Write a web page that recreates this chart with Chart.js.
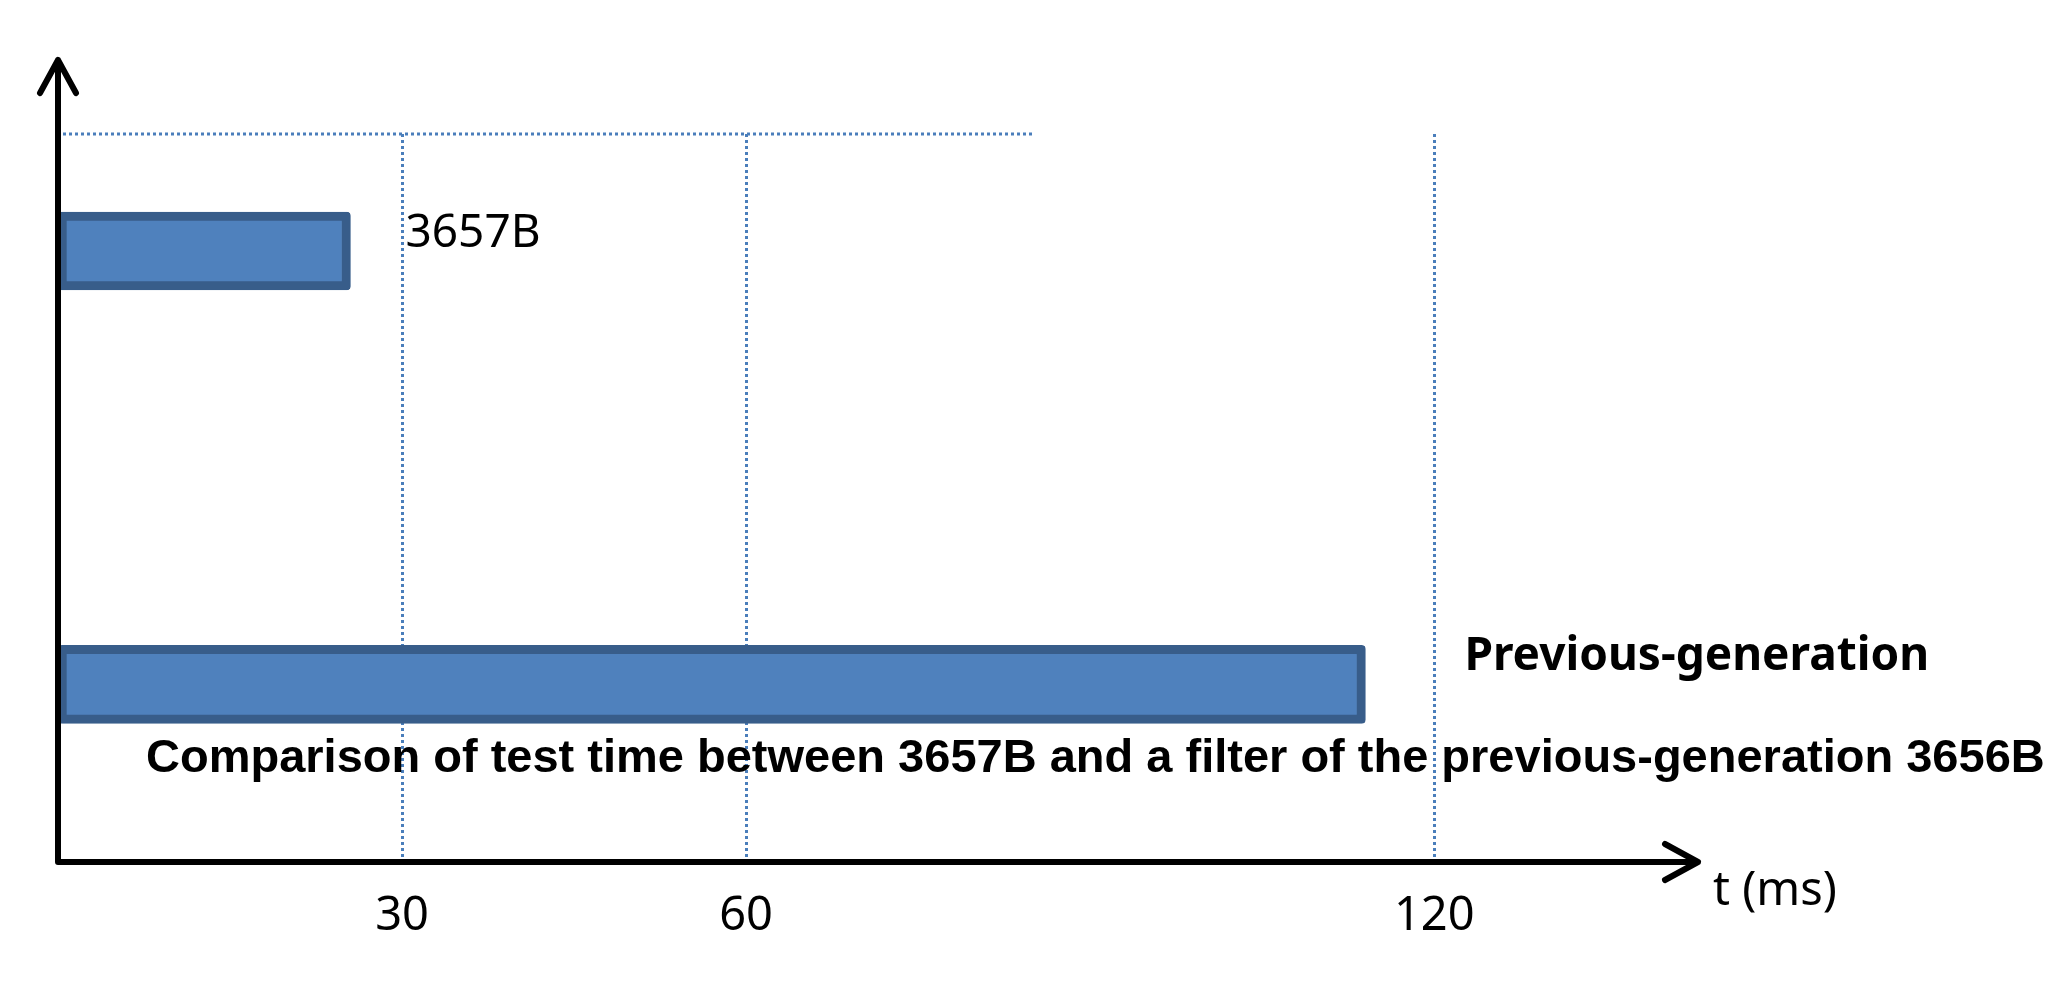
<!DOCTYPE html>
<html lang="en">
<head>
  <meta charset="UTF-8" />
  <title>Test Time Comparison</title>
  <script src="https://cdn.jsdelivr.net/npm/chart.js"></script>
  <style>
    html, body { margin: 0; padding: 0; background: #fff; }
    #wrap { width: 2048px; height: 1003px; }
  </style>
</head>
<body>
  <div id="wrap"><canvas id="timeChart" width="2048" height="1003"></canvas></div>

  <script>
    // data
    const categories = ['3657B', 'Previous-generation'];
    const testTimes = [25.5, 114];          // ms
    const tickValues = [30, 60, 120];
    const axisTitle = 't (ms)';
    const caption = 'Comparison of test time between 3657B and a filter of the previous-generation 3656B';

    // label styling (offsets from the bar end / centre, in px)
    const labelWeights = ['normal', 'bold'];
    const labelGap = [55, 99];
    const labelRise = [-4, -14];
    const topRuleEnd = 85;                   // dotted rule at the top stops here (ms)

    const dotBlue = '#4a7ebb';

    const frame = {
      id: 'frame',
      afterDatasetsDraw(chart) {
        const { ctx, chartArea: a } = chart;
        const bars = chart.getDatasetMeta(0).data;
        ctx.save();
        ctx.fillStyle = '#000';
        ctx.textBaseline = 'alphabetic';
        ctx.textAlign = 'left';
        bars.forEach((bar, i) => {
          ctx.font = labelWeights[i] + ' 46px "Noto Sans"';
          ctx.fillText(categories[i], bar.x + labelGap[i], bar.y + labelRise[i]);
        });
        ctx.font = 'bold 47px "Liberation Sans"';
        ctx.fillText(caption, a.left + 88, a.bottom - 90);
        ctx.font = '47px "Noto Sans"';
        ctx.fillText(axisTitle, a.right + 15, a.bottom + 43);
        ctx.restore();
      },
      afterDraw(chart) {
        const { ctx, chartArea: a, scales: { x } } = chart;
        ctx.save();
        // dotted rule along the top
        ctx.strokeStyle = dotBlue;
        ctx.lineWidth = 3;
        ctx.setLineDash([3, 3]);
        ctx.beginPath();
        ctx.moveTo(a.left + 5, a.top);
        ctx.lineTo(x.getPixelForValue(topRuleEnd), a.top);
        ctx.stroke();
        ctx.setLineDash([]);

        // axes with open arrow heads
        ctx.strokeStyle = '#000';
        ctx.lineWidth = 6;
        ctx.lineCap = 'round';
        ctx.lineJoin = 'round';
        const tipY = a.top - 74;
        ctx.beginPath();
        ctx.moveTo(a.left, a.bottom);
        ctx.lineTo(a.left, tipY);
        ctx.moveTo(a.left - 18, tipY + 33);
        ctx.lineTo(a.left, tipY);
        ctx.lineTo(a.left + 18, tipY + 33);
        ctx.moveTo(a.left, a.bottom);
        ctx.lineTo(a.right, a.bottom);
        ctx.moveTo(a.right - 33, a.bottom - 18);
        ctx.lineTo(a.right, a.bottom);
        ctx.lineTo(a.right - 33, a.bottom + 18);
        ctx.stroke();
        ctx.restore();
      }
    };

    new Chart(document.getElementById('timeChart'), {
      type: 'bar',
      data: {
        datasets: [{
          data: categories.map((c, i) => ({ x: testTimes[i], y: i })),
          backgroundColor: '#4f81bd',
          borderColor: '#385d8a',
          borderWidth: 9,
          borderSkipped: false,
          borderRadius: 4,
          barThickness: 78
        }]
      },
      options: {
        responsive: false,
        devicePixelRatio: 1,
        animation: false,
        indexAxis: 'y',
        layout: { padding: { left: 58, top: 134, right: 350, bottom: 0 } },
        plugins: { legend: { display: false }, tooltip: { enabled: false } },
        scales: {
          x: {
            type: 'linear',
            min: 0,
            max: 143,
            afterBuildTicks: s => { s.ticks = tickValues.map(v => ({ value: v })); },
            afterFit: s => { s.height = 141; },
            ticks: {
              font: { family: 'Noto Sans', size: 47 },
              color: '#000',
              padding: 26,
              maxRotation: 0,
              autoSkip: false
            },
            grid: { color: dotBlue, lineWidth: 3, drawTicks: false },
            border: { display: false, dash: [3, 3] }
          },
          y: {
            type: 'linear',
            reverse: true,
            offset: false,
            min: -0.27,
            max: 1.41,
            display: false
          }
        }
      },
      plugins: [frame]
    });
  </script>
</body>
</html>
